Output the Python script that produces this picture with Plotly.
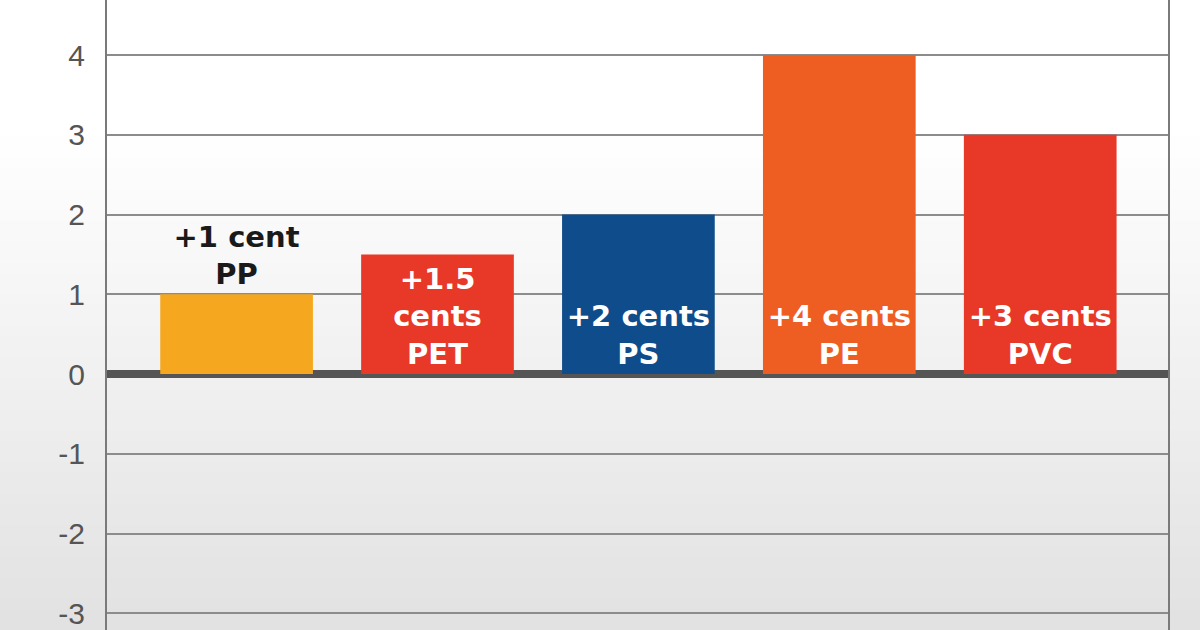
import plotly.graph_objects as go

# price increases by resin, cents per pound
resins = ["PP", "PET", "PS", "PE", "PVC"]
increase = [1, 1.5, 2, 4, 3]
labels = ["+1 cent<br>PP", "+1.5<br>cents<br>PET", "+2 cents<br>PS",
          "+4 cents<br>PE", "+3 cents<br>PVC"]
colors = ["#F5A81F", "#E73828", "#0F4C8B", "#EE5E22", "#E73828"]
label_colors = ["#1a1a1a", "white", "white", "white", "white"]
label_pos = ["outside", "inside", "inside", "inside", "inside"]
y_ticks = [-3, -2, -1, 0, 1, 2, 3, 4]
y_ticktext = ["-3", "-2", "-1", "0", "1", "2", "3", "4"]

fig = go.Figure(go.Bar(
    x=resins, y=increase, marker_color=colors, marker_line_width=0,
    width=0.76, text=labels, textposition=label_pos,
    insidetextanchor="start", constraintext="none", cliponaxis=False,
    textfont=dict(family="DejaVu Sans", size=29, weight="bold", color=label_colors),
))

# soft grey gradient behind everything
steps = 60
for i in range(steps):
    t = i / steps
    if t < 0.2:
        g = 255
    else:
        g = round(255 - (t - 0.2) / 0.8 * 30)
    fig.add_shape(type="rect", xref="paper", yref="paper",
                  x0=-0.2, x1=1.2, y0=1 - (i + 1) / steps - 0.002, y1=1 - i / steps,
                  fillcolor=f"rgb({g},{g},{g})", line_width=0, layer="below")

fig.update_layout(
    width=1200, height=630,
    margin=dict(l=107, r=32, t=0, b=0),
    paper_bgcolor="white", plot_bgcolor="rgba(0,0,0,0)",
    showlegend=False,
    uniformtext=dict(minsize=29, mode="show"),
    bargap=0.24,
)
fig.update_xaxes(range=[-0.645, 4.636], showticklabels=False, showgrid=False,
                 zeroline=False, showline=False)
fig.update_yaxes(range=[-3.21, 4.69], tickvals=y_ticks, ticktext=y_ticktext,
                 showgrid=True, gridcolor="#8c8c8c", gridwidth=2,
                 zeroline=True, zerolinecolor="#555555", zerolinewidth=8,
                 showline=True, mirror=True, linecolor="#7a7a7a", linewidth=2,
                 ticklabelstandoff=14,
                 tickfont=dict(family="Liberation Sans", size=30, color="#555555"))

fig.write_html("out.html", config={"displayModeBar": False},
               post_script="document.body.style.margin='0';")
